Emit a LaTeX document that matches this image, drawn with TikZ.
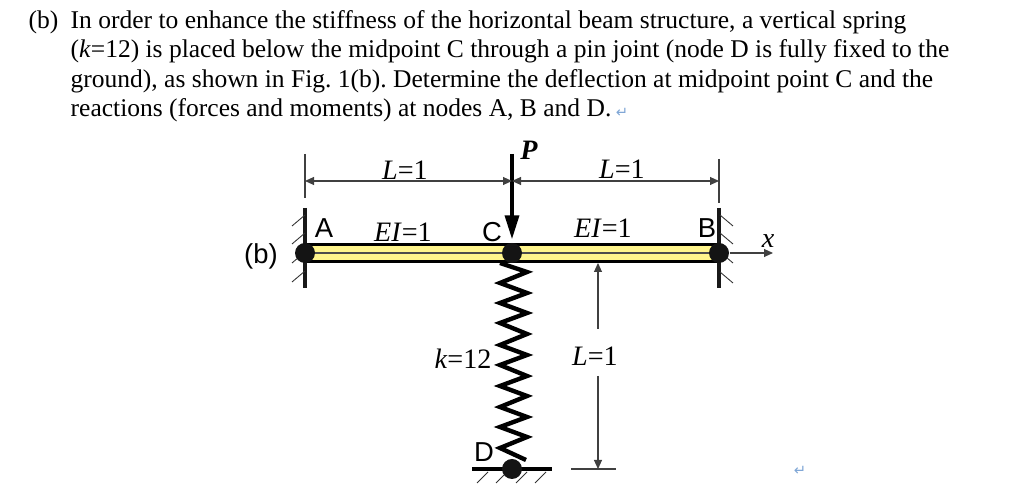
\documentclass[tikz,border=0pt]{standalone}
\usepackage{fontspec}
\setmainfont{Liberation Serif}
\setsansfont{Liberation Sans}
\newfontfamily\symbfont{DejaVu Sans}
\usetikzlibrary{arrows.meta}
\definecolor{beamyellow}{HTML}{FFF58C}
\definecolor{markblue}{HTML}{7FA6D6}
\tikzset{
	textline/.style={anchor=base west, inner sep=0pt, font=\fontsize{7.26}{8}\selectfont\frenchspacing},
	dimtext/.style={inner sep=1pt, font=\fontsize{8}{9}\selectfont},
	lettertext/.style={inner sep=0pt, font=\sffamily\fontsize{7.8}{8}\selectfont},
	dimline/.style={line width=0.3pt, black!75},
	dimarrow/.style={dimline, -{Triangle[length=0.09cm,width=0.08cm]}},
	dimboth/.style={dimline, {Triangle[length=0.09cm,width=0.08cm]}-{Triangle[length=0.09cm,width=0.08cm]}},
	wall/.style={line width=1.05pt, black!90},
	hatch/.style={line width=0.25pt, black!80},
	pin/.style={circle, fill=black!92, minimum size=0.2cm, inner sep=0pt},
	returnmark/.style={inner sep=0pt, text=markblue, font=\symbfont\fontsize{4.2}{5}\selectfont}
}
\begin{document}
\begin{tikzpicture}
	\useasboundingbox (0,0) rectangle (10.24,4.91);

	% question text
	\node (Q0) [textline] at (0.28,4.62) {(b)};
	\node (Q1) [textline] at (0.70,4.62) {In order to enhance the stiffness of the horizontal beam structure, a vertical spring};
	\node (Q2) [textline] at (0.70,4.33) {(\textit{k}=12) is placed below the midpoint C through a pin joint (node D is fully fixed to the};
	\node (Q3) [textline] at (0.70,4.03) {ground), as shown in Fig. 1(b). Determine the deflection at midpoint point C and the};
	\node (Q4) [textline] at (0.70,3.74) {reactions (forces and moments) at nodes A, B and D.};
	\node (R1) [returnmark] at (6.22,3.78) {↵};
	\node (R2) [returnmark] at (8.00,0.20) {↵};

	\coordinate (a) at (3.05,2.38);
	\coordinate (c) at (5.12,2.38);
	\coordinate (b) at (7.19,2.38);
	\coordinate (d) at (5.12,0.22);

	% beam
	\fill [beamyellow] ([yshift=0.07cm]a) rectangle ([yshift=-0.07cm]b);
	\draw [line width=0.85pt] ([yshift=0.085cm]a) to ([yshift=0.085cm]b);
	\draw [line width=0.85pt] ([yshift=-0.085cm]a) to ([yshift=-0.085cm]b);
	\draw [line width=0.4pt, black!70] (a) to (b);

	% walls
	\draw [wall] (3.05,2.83) to (3.05,2.03);
	\draw [wall] (7.19,2.83) to (7.19,2.03);
	\foreach \y in {2.76,2.58,2.39,2.20}
		\draw [hatch] (3.05,\y) to (2.92,\y-0.11);
	\foreach \y in {2.76,2.58,2.39,2.19}
		\draw [hatch] (7.20,\y) to (7.33,\y-0.11);

	% spring
	\draw [line width=1.25pt, line join=miter] (5.00,2.28)
		\foreach \yr/\yl in {2.19/2.08,1.98/1.88,1.78/1.68,1.57/1.46,1.36/1.26,1.15/1.05,0.95/0.84,0.74/0.64,0.54/0.43}
			{-- (5.27,\yr) -- (5.00,\yl)}
		-- (5.26,0.31);

	% ground
	\draw [line width=1.1pt] (4.72,0.22) to (5.52,0.22);
	\foreach \x in {4.88,5.07,5.27,5.46}
		\draw [hatch] (\x,0.19) to (\x-0.11,0.08);

	% pins
	\node (pA) [pin] at (a) {};
	\node (pB) [pin] at (b) {};
	\node (pC) [pin] at (c) {};
	\node (pD) [pin] at (d) {};

	% load
	\coordinate (P0) at (5.12,3.37);
	\draw [line width=1pt, -{Triangle[length=0.24cm,width=0.14cm]}] (P0) to ([yshift=0.03cm]pC.north);
	\node (P) [inner sep=0pt, font=\bfseries\itshape\fontsize{8}{9}\selectfont] at (5.29,3.41) {P};

	% dimensions
	\coordinate (e1) at (3.05,3.37);
	\coordinate (e2) at (3.05,2.93);
	\coordinate (e3) at (7.19,3.32);
	\coordinate (e4) at (7.19,2.88);
	\coordinate (h1) at (3.05,3.10);
	\coordinate (h2) at (5.12,3.10);
	\coordinate (h3) at (7.19,3.10);
	\draw [dimline] (e1) to (e2);
	\draw [dimline] (e3) to (e4);
	\draw [dimboth] (h1) to (h2);
	\draw [dimboth] (h2) to (h3);
	\node (L1) [dimtext] at (4.05,3.21) {\textit{L}=1};
	\node (L2) [dimtext] at (6.22,3.22) {\textit{L}=1};

	\node (L3) [dimtext] at (5.95,1.35) {\textit{L}=1};
	\coordinate (v1) at (5.98,2.28);
	\coordinate (v2) at (5.98,0.22);
	\coordinate (v3) at (5.98,1.62);
	\coordinate (v4) at (5.98,1.15);
	\coordinate (g1) at (5.71,0.22);
	\coordinate (g2) at (6.16,0.22);
	\draw [dimarrow] (v3) to (v1);
	\draw [dimarrow] (v4) to (v2);
	\draw [dimline] (g1) to (g2);

	% axis
	\coordinate (xend) at (7.73,2.38);
	\draw [dimarrow] (pB) to (xend);
	\node (x) [dimtext] at (7.68,2.50) {\textit{x}};

	% labels
	\node (A) [lettertext] at (3.24,2.63) {A};
	\node (C) [lettertext] at (4.92,2.59) {C};
	\node (B) [lettertext] at (7.07,2.63) {B};
	\node (D) [lettertext] at (4.84,0.39) {D};
	\node (fig) [lettertext] at (2.61,2.35) {(b)};
	\node (EI1) [dimtext] at (4.03,2.59) {\textit{EI}=1};
	\node (EI2) [dimtext] at (6.03,2.63) {\textit{EI}=1};
	\node (k) [dimtext] at (4.63,1.32) {\textit{k}=12};
\end{tikzpicture}
\end{document}
